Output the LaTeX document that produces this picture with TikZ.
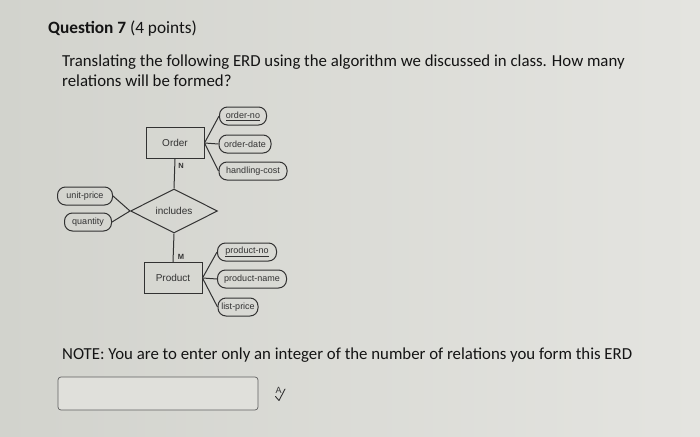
\documentclass[tikz,border=0pt]{standalone}
\usepackage{fontspec}
\setmainfont{Carlito}
\newfontfamily\diag{Liberation Sans}
\usetikzlibrary{shapes.geometric}
\definecolor{bgl}{RGB}{210,211,205}
\definecolor{bgr}{RGB}{228,228,224}
\definecolor{ink}{RGB}{20,20,20}
\definecolor{dink}{RGB}{50,50,50}
\definecolor{boxfill}{RGB}{224,224,219}
\tikzset{
  qtext/.style={anchor=base west, inner sep=0pt, text=ink},
  entity/.style={draw=dink, line width=1pt, minimum width=58pt, minimum height=31pt, inner sep=0pt, font=\diag\fontsize{10}{12}\selectfont, text=dink},
  relbox/.style={draw=dink, line width=1pt, shape=diamond, minimum width=87pt, minimum height=34pt, inner sep=0pt, font=\diag\fontsize{10}{12}\selectfont, text=dink},
  attr/.style={draw=dink, line width=1pt, rounded corners=8pt, minimum height=18pt, inner sep=0pt, font=\diag\fontsize{9}{10}\selectfont, text=dink},
  link/.style={draw=dink, line width=1pt},
  card/.style={inner sep=0pt, font=\diag\bfseries\fontsize{7.5}{9}\selectfont, text=dink}
}
\begin{document}
\begin{tikzpicture}[x=1pt,y=-1pt]
\useasboundingbox (0,0) rectangle (700,436);
\shade[left color=bgl, right color=bgr] (0,0) rectangle (700,436);

\node[qtext] (title) at (48,34) {\fontsize{17.3}{20}\selectfont\textbf{Question 7} (4 points)};
\node[qtext] (q1) at (62,66) {\fontsize{16.8}{20}\selectfont Translating the following ERD using the algorithm we discussed in class. How many};
\node[qtext] (q2) at (62,86) {\fontsize{16.8}{20}\selectfont relations will be formed?};

% entities and relationship
\node[entity] (order) at (175,143) {Order};
\node[relbox] (inc) at (174,211) {includes};
\node[entity] (prod) at (173,278) {Product};

% attributes of Order
\node[attr, minimum width=47pt] (ono) at (243,116) {\underline{order-no}};
\node[attr, minimum width=52pt] (odate) at (245,144) {order-date};
\node[attr, minimum width=68pt] (hcost) at (253,171) {handling-cost};

% attributes of includes
\node[attr, minimum width=55pt] (uprice) at (85,196) {unit-price};
\node[attr, minimum width=47pt] (qty) at (88,222) {quantity};

% attributes of Product
\node[attr, minimum width=59pt] (pno) at (247,252) {\underline{product-no}};
\node[attr, minimum width=69pt] (pname) at (252,279) {product-name};
\node[attr, minimum width=40pt] (lprice) at (238,307) {list-price};

% connectors
\draw[link] (order.east) -- (ono.west);
\draw[link] (order.east) -- (odate.west);
\draw[link] (order.east) -- (hcost.west);
\draw[link] (inc.west) -- (uprice.east);
\draw[link] (inc.west) -- (qty.east);
\draw[link] (prod.east) -- (pno.west);
\draw[link] (prod.east) -- (pname.west);
\draw[link] (prod.east) -- (lprice.west);
\draw[link] (order.south) -- (inc.north);
\draw[link] (inc.south) -- (prod.north);

\node[card] (n) at (181,166) {N};
\node[card] (m) at (181,257) {M};

% note and answer box
\node[qtext] (note) at (62,359) {\fontsize{16.8}{20}\selectfont NOTE: You are to enter only an integer of the number of relations you form this ERD};
\node[draw=gray!75!black, line width=0.7pt, rounded corners=3pt, fill=boxfill, minimum width=200pt, minimum height=33pt, inner sep=0pt] (ans) at (158,393.5) {};
\node[inner sep=0pt, font=\diag\fontsize{9}{10}\selectfont, text=dink] (spell) at (278.5,390) {A};
\coordinate (ck1) at (275.5,396.5);
\coordinate (ck2) at (279,400.5);
\coordinate (ck3) at (285,389);
\draw[dink, line width=0.9pt, line cap=round, line join=round] (ck1) -- (ck2) -- (ck3);
\end{tikzpicture}
\end{document}
